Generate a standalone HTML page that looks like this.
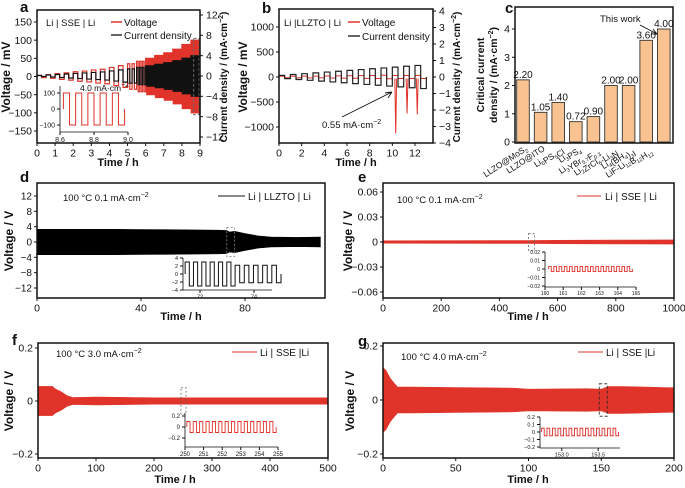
<!DOCTYPE html>
<html><head><meta charset="utf-8"><style>
html,body{margin:0;padding:0;background:#fff}
svg{display:block;font-family:"Liberation Sans",Arial,sans-serif}
</style></head><body>
<svg id="fig" width="685" height="488" viewBox="0 0 685 488" xmlns="http://www.w3.org/2000/svg"></svg>
<script>
// ---------- data ----------
// panel a (0.5 h segments)
const aCurrent=[0.1,0.2,0.3,0.4,0.5,0.6,0.7,0.8,1.0,1.2,1.4,1.7,2.0,2.3,2.6,3.0,3.5,4.0];
const aVoltage=[3,5,8,10,13,15,18,20,25,30,35,42,50,58,65,75,88,100];
const aCycles=[1,1,1,1,1,1,1,1,1,1,2,3,4,6,8,10,12,14];
// panel b (1 h cycles)
const bCurrent=[0.1,0.15,0.2,0.25,0.3,0.35,0.4,0.45,0.5,0.55,0.6,0.65,0.7];
const bVoltage=[15,15,18,18,20,22,25,28,30,35,30,30,30];
const bSpikeTimes=[10.3,11.3,12.2];
const bSpikeValues=[-1130,-730,-750];
// panel c
const cVals=[2.20,1.05,1.40,0.72,0.90,2.00,2.00,3.60,4.00];
const cLabels=["2.20","1.05","1.40","0.72","0.90","2.00","2.00","3.60","4.00"];
// envelopes
const dTimes=[0,10,30,50,70,73,74,76,80,85,90,100,109];
const dAmps=[3.3,3.3,3.3,3.2,3.1,3.0,2.6,2.8,2.2,1.6,1.3,1.2,1.3];
const eTimes=[0,200,400,500,600,800,1000];
const eAmps=[0.0015,0.0016,0.0018,0.0018,0.002,0.0023,0.0025];
const fTimes=[0,25,30,40,50,60,100,200,300,400,500];
const fAmps=[0.055,0.055,0.045,0.035,0.02,0.013,0.015,0.012,0.012,0.012,0.012];
const gTimes=[0,2,5,8,10,20,50,90,100,140,150,155,165,200];
const gAmps=[0.12,0.11,0.08,0.06,0.048,0.048,0.046,0.044,0.04,0.042,0.04,0.05,0.05,0.045];

// ---------- helpers ----------
const NS='http://www.w3.org/2000/svg';
const svg=document.getElementById('fig');
const RED='#e0342b';
function add(tag,attrs,parent){const e=document.createElementNS(NS,tag);for(const k in attrs)e.setAttribute(k,attrs[k]);(parent||svg).appendChild(e);return e;}
function lin(d0,d1,r0,r1){return v=>r0+(v-d0)*(r1-r0)/(d1-d0);}
function txt(x,y,s,size,anchor,weight,parent){const t=add('text',{x:x,y:y,'font-size':size,'text-anchor':anchor||'start','font-weight':weight||'normal',fill:'#111'},parent);t.textContent=s;return t;}
function box(x0,y0,x1,y1,name){const r=add('rect',{x:x0,y:y0,width:x1-x0,height:y1-y0,fill:'none',stroke:'#111','stroke-width':1.5});

return r;}
function yTicks(x,ticks,labels,sy,size,side,name){ticks.forEach((v,i)=>{const y=sy(v);const dx=side==='r'?3:-3;
const l=add('line',{x1:x,x2:x+dx,y1:y,y2:y,stroke:'#111','stroke-width':1});


const t=txt(side==='r'?x+6:x-5,y+size*0.35,labels[i],size,side==='r'?'start':'end');

});}
function xTicks(y,ticks,labels,sx,size,name){ticks.forEach((v,i)=>{const x=sx(v);
const l=add('line',{x1:x,x2:x,y1:y,y2:y+3,stroke:'#111','stroke-width':1});


const t=txt(x,y+size+3,labels[i],size,'middle');

});}
function rtxt(x,y,s,size,rot,name){const t=add('text',{x:0,y:0,'font-size':size,'text-anchor':'middle','font-weight':'bold',fill:'#111',transform:`translate(${x},${y}) rotate(${rot})`});t.innerHTML=s;

return t;}
function label(x,y,s,size,name,weight){const t=txt(x,y,'',size,'start',weight);t.innerHTML=s;

return t;}
function envelope(times,amps,sx,sy,color,name){let p='';times.forEach((t,i)=>{p+=(i?'L':'M')+sx(t)+','+sy(amps[i]);});for(let i=times.length-1;i>=0;i--)p+='L'+sx(times[i])+','+sy(-amps[i]);p+='Z';
const e=add('path',{d:p,fill:color,stroke:color,'stroke-width':0.6});

return e;}
function sq(t0,t1,n,amp,sx,sy){let p='';const w=(t1-t0)/n;for(let k=0;k<n;k++){const a=t0+k*w,m=a+w/2,b=a+w;p+=`M${sx(a)},${sy(0)}L${sx(a)},${sy(amp)}L${sx(m)},${sy(amp)}L${sx(m)},${sy(-amp)}L${sx(b)},${sy(-amp)}L${sx(b)},${sy(0)}`;}return p;}
const sup='font-size="7" dy="-4"';

// ---------- panel a ----------
{const sx=lin(0,9,37,200),syL=lin(0,150,76.5,22),syR=lin(0,12,76,15);
let pb='',pr='';aCurrent.forEach((c,k)=>{pb+=sq(k*0.5,k*0.5+0.5,aCycles[k],c,sx,syR);pr+=sq(k*0.5,k*0.5+0.5,aCycles[k],aVoltage[k],sx,syL);});
const r=add('path',{d:pr,fill:'none',stroke:RED,'stroke-width':1.2});


const b=add('path',{d:pb,fill:'none',stroke:'#111','stroke-width':1.2});


const db=add('rect',{x:sx(8.65),y:syL(105),width:sx(8.95)-sx(8.65),height:syL(-105)-syL(105),fill:'none',stroke:'#666','stroke-dasharray':'3,2'});


box(37,10,200,143,'a-plot-frame');
yTicks(37,[150,100,50,0,-50,-100,-150],['150','100','50','0','−50','−100','−150'],syL,10.5,'l','a-y-left');
yTicks(200,[12,8,4,0,-4,-8,-12],['12','8','4','0','−4','−8','−12'],syR,10.5,'r','a-y-right');
xTicks(143,[0,1,2,3,4,5,6,7,8,9],['0','1','2','3','4','5','6','7','8','9'],sx,10.5,'a-x');
const ix=lin(8.6,9.0,60,128),iy=lin(0,100,109,93);
const ia=add('path',{d:'M60,86L60,132L128,132',fill:'none',stroke:'#111','stroke-width':0.8});


const iw=add('path',{d:sq(8.62,8.98,5,100,ix,iy),fill:'none',stroke:RED,'stroke-width':1});


yTicks(60,[100,0,-100],['100','0','−100'],iy,7,'l','a-inset-y');
xTicks(132,[8.6,8.8,9.0],['8.6','8.8','9.0'],ix,7,'a-inset-x');
label(80,91,'4.0 mA·cm<tspan '+sup+'>−2</tspan>',8.5,'a-inset-annotation');
label(46,26,'Li | SSE | Li',9.5,'a-cell-label');
const l1=add('line',{x1:111,x2:122,y1:22,y2:22,stroke:RED,'stroke-width':1.5});
label(124,26,'Voltage',10,'a-legend-voltage');
const l2=add('line',{x1:111,x2:122,y1:35,y2:35,stroke:'#333','stroke-width':1.5});
label(124,39,'Current density',10,'a-legend-current');
rtxt(10,77,'Voltage / mV',12,-90,'a-y-title');
rtxt(227,77,'Current density / (mA·cm<tspan '+sup+'>−2</tspan><tspan dy="4">)</tspan>',10,-90,'a-y-right-title');
rtxt(118,166,'Time / h',11,0,'a-x-title');
label(20,12,'a',15,'a-panel-letter','bold');}

// ---------- panel b ----------
{const sx=lin(0,12,279,415),syL=lin(0,1000,77,27),syR=lin(0,4,77,11);
let pb='';bCurrent.forEach((c,k)=>{pb+=sq(k,k+1,1,c,sx,syR);});
let pr='M'+sx(0)+','+syL(0);bVoltage.forEach((v,k)=>{pr+=`L${sx(k)},${syL(v)}L${sx(k+0.5)},${syL(v)}L${sx(k+0.5)},${syL(-v)}L${sx(k+1)},${syL(-v)}`;});
const r=add('path',{d:pr,fill:'none',stroke:RED,'stroke-width':1});


bSpikeTimes.forEach((t,i)=>{const s=add('path',{d:`M${sx(t-0.08)},${syL(-30)}L${sx(t)},${syL(bSpikeValues[i])}L${sx(t+0.08)},${syL(-30)}`,fill:'none',stroke:RED,'stroke-width':1});

});
const b=add('path',{d:pb,fill:'none',stroke:'#222','stroke-width':1.2});


box(279,9,433,143,'b-plot-frame');
yTicks(279,[1000,500,0,-500,-1000],['1000','500','0','−500','−1000'],syL,10.5,'l','b-y-left');
yTicks(433,[4,3,2,1,0,-1,-2,-3,-4],['4','3','2','1','0','−1','−2','−3','−4'],syR,10.5,'r','b-y-right');
xTicks(143,[0,2,4,6,8,10,12],['0','2','4','6','8','10','12'],sx,10.5,'b-x');
label(284,26,'Li |LLZTO | Li',9.5,'b-cell-label');
const l1=add('line',{x1:348,x2:360,y1:22,y2:22,stroke:RED,'stroke-width':1.5});
label(362,26,'Voltage',10,'b-legend-voltage');
const l2=add('line',{x1:348,x2:360,y1:36,y2:36,stroke:'#333','stroke-width':1.5});
label(362,40,'Current density',10,'b-legend-current');
label(322,128,'0.55 mA·cm<tspan '+sup+'>−2</tspan>',9.5,'b-annotation');
const ar=add('path',{d:'M342,117L392,92M392,92L385,93M392,92L388,98',stroke:'#111','stroke-width':0.9,fill:'none'});

rtxt(247,77,'Voltage / mV',12,-90,'b-y-title');
rtxt(460,77,'Current density / (mA·cm<tspan '+sup+'>−2</tspan><tspan dy="4">)</tspan>',10,-90,'b-y-right-title');
rtxt(356,166,'Time / h',11,0,'b-x-title');
label(262,13,'b',15,'b-panel-letter','bold');}

// ---------- panel c ----------
{const sy=lin(0,4,142,29),cx=i=>523+i*17.6;const subs=[['LLZO@MoS','2'],['LLZO@ITO',''],['Li','6','PS','5','Cl'],['Li','3','PS','4'],['Li','3','YBr','5.7','F','0.3'],['Li','2','ZrCl','6','-Li','3','N'],['Li','4','(BH','4',')','3','I'],['LiF-Li','12','B','12','H','12']];
cVals.forEach((v,i)=>{const r=add('rect',{x:cx(i)-6.3,y:sy(v),width:12.6,height:sy(0)-sy(v),fill:'#f8c291',stroke:'#333','stroke-width':0.9});


const t=txt(cx(i),sy(v)-2,cLabels[i],10,'middle');

});
box(515,7,673,143,'c-plot-frame');
yTicks(515,[0,1,2,3,4],['0','1','2','3','4'],sy,10.5,'l','c-y');
subs.forEach((parts,i)=>{let h='';parts.forEach((p,j)=>{h+=j%2?`<tspan font-size="5.5" dy="2">${p}</tspan><tspan dy="-2"></tspan>`:p;});
const t=add('text',{x:0,y:0,'font-size':8.5,'text-anchor':'end',fill:'#111',transform:`translate(${cx(i)+5},${150}) rotate(-33)`});t.innerHTML=h;

});
label(600,22,'This work',9.5,'c-this-work-label');
const ar=add('path',{d:'M640,25L657,34M657,34L651,34M657,34L653,29',stroke:'#111','stroke-width':0.9,fill:'none'});

rtxt(484,75,'Critical current',10.5,-90,'c-y-title-1');
rtxt(497,75,'density / (mA·cm<tspan '+sup+'>−2</tspan><tspan dy="4">)</tspan>',10.5,-90,'c-y-title-2');
label(505,13,'c',15,'c-panel-letter','bold');}

// ---------- panel d ----------
{const sx=lin(0,40,37,141),sy=lin(0,12,242,196);
envelope(dTimes,dAmps,sx,sy,'#000','d-voltage-band');
box(37,183,325,298,'d-plot-frame');
yTicks(37,[12,8,4,0,-4,-8,-12],['12','8','4','0','−4','−8','−12'],sy,10,'l','d-y');
xTicks(298,[0,40,80],['0','40','80'],sx,10.5,'d-x');
const m=add('rect',{x:sx(73),y:sy(3.8),width:sx(76)-sx(73),height:sy(-3.8)-sy(3.8),fill:'none',stroke:'#888','stroke-dasharray':'2,2','stroke-width':0.8});

const ix=lin(72,74,200,254),iy=lin(0,4,274,258);
const ia=add('path',{d:'M183,258L183,290L272,290',fill:'none',stroke:'#111','stroke-width':0.8});

const iw=add('path',{d:sq(71.45,73.3,6,3,ix,iy)+sq(73.3,75.0,5,2.2,ix,iy),fill:'none',stroke:'#111','stroke-width':1});

yTicks(183,[4,2,0,-2,-4],['4','2','0','−2','−4'],iy,5.5,'l','d-inset-y');
xTicks(290,[72,74],['72','74'],ix,5.5,'d-inset-x');
label(63,201,'100 °C 0.1 mA·cm<tspan '+sup+'>−2</tspan>',9.5,'d-condition-label');
const l=add('line',{x1:218,x2:245,y1:196,y2:196,stroke:'#111','stroke-width':1});
label(248,200,'Li | LLZTO | Li',10,'d-legend-label');
rtxt(13,241,'Voltage / V',12,-90,'d-y-title');
rtxt(181,320,'Time / h',11,0,'d-x-title');
label(20,182,'d',15,'d-panel-letter','bold');}

// ---------- panel e ----------
{const sx=lin(0,1000,383,674),sy=lin(0,0.06,242,192);
envelope(eTimes,eAmps,sx,sy,RED,'e-voltage-band');
box(383,183,674,298,'e-plot-frame');
yTicks(383,[0.06,0.03,0,-0.03,-0.06],['0.06','0.03','0','−0.03','−0.06'],sy,10.5,'l','e-y');
xTicks(298,[0,200,400,600,800,1000],['0','200','400','600','800','1000'],sx,10.5,'e-x');
const m=add('rect',{x:sx(500),y:sy(0.01),width:6,height:sy(-0.01)-sy(0.01),fill:'none',stroke:'#666','stroke-dasharray':'2,2','stroke-width':0.8});

const ix=lin(160,165,545,636),iy=lin(0,0.02,269,252);
const ia=add('path',{d:'M545,252L545,287L636,287',fill:'none',stroke:'#111','stroke-width':0.8});

const iw=add('path',{d:sq(160.2,164.8,16,0.003,ix,iy),fill:'none',stroke:RED,'stroke-width':0.9});

yTicks(545,[0.02,0.01,0,-0.01,-0.02],['0.02','0.01','0','−0.01','−0.02'],iy,5,'l','e-inset-y');
xTicks(287,[160,161,162,163,164,165],['160','161','162','163','164','165'],ix,5,'e-inset-x');
label(397,203,'100 °C 0.1 mA·cm<tspan '+sup+'>−2</tspan>',9.5,'e-condition-label');
const l=add('line',{x1:577,x2:601,y1:196,y2:196,stroke:RED,'stroke-width':1});
label(605,200,'Li | SSE | Li',10,'e-legend-label');
rtxt(352,241,'Voltage / V',12,-90,'e-y-title');
rtxt(528,320,'Time / h',11,0,'e-x-title');
label(358,182,'e',15,'e-panel-letter','bold');}

// ---------- panel f ----------
{const sx=lin(0,500,38,328),sy=lin(0,0.2,401,348);
envelope(fTimes,fAmps,sx,sy,RED,'f-voltage-band');
box(38,343,328,458,'f-plot-frame');
yTicks(38,[0.2,0,-0.2],['0.2','0','−0.2'],sy,10.5,'l','f-y');
xTicks(458,[0,100,200,300,400,500],['0','100','200','300','400','500'],sx,10.5,'f-x');
const m=add('rect',{x:sx(250)-2,y:sy(0.05),width:5,height:sy(-0.05)-sy(0.05),fill:'none',stroke:'#666','stroke-dasharray':'2,2','stroke-width':0.8});

const ix=lin(250,255,185,278),iy=lin(0,0.2,427,416);
const ia=add('path',{d:'M185,413L185,447L278,447',fill:'none',stroke:'#111','stroke-width':0.8});

const iw=add('path',{d:sq(250.1,254.9,14,0.1,ix,iy),fill:'none',stroke:RED,'stroke-width':0.9});

yTicks(185,[0.2,0,-0.2],['0.2','0','−0.2'],iy,6,'l','f-inset-y');
xTicks(447,[250,251,252,253,254,255],['250','251','252','253','254','255'],ix,6,'f-inset-x');
label(56,357,'100 °C 3.0 mA·cm<tspan '+sup+'>−2</tspan>',9.5,'f-condition-label');
const l=add('line',{x1:232,x2:257,y1:352,y2:352,stroke:RED,'stroke-width':1});
label(260,356,'Li | SSE |Li',10,'f-legend-label');
rtxt(13,401,'Voltage / V',12,-90,'f-y-title');
rtxt(175,483,'Time / h',11,0,'f-x-title');
label(12,345,'f',15,'f-panel-letter','bold');}

// ---------- panel g ----------
{const sx=lin(0,200,383,674),sy=lin(0,0.2,400,346);
envelope(gTimes,gAmps,sx,sy,RED,'g-voltage-band');
box(383,343,674,458,'g-plot-frame');
yTicks(383,[0.2,0,-0.2],['0.2','0','−0.2'],sy,10.5,'l','g-y');
xTicks(458,[0,50,100,150,200],['0','50','100','150','200'],sx,10.5,'g-x');
const m=add('rect',{x:sx(150)-2,y:sy(0.06),width:8,height:sy(-0.06)-sy(0.06),fill:'none',stroke:'#222','stroke-dasharray':'3,2','stroke-width':0.8});

const ix=lin(152.7,153.8,540,620),iy=lin(0,0.2,432,417);
const ia=add('path',{d:'M540,417L540,448L620,448',fill:'none',stroke:'#111','stroke-width':0.8});

const iw=add('path',{d:sq(152.72,153.78,14,0.05,ix,iy),fill:'none',stroke:RED,'stroke-width':0.9});

yTicks(540,[0.2,0.1,0,-0.1,-0.2],['0.2','0.1','0','−0.1','−0.2'],iy,5.5,'l','g-inset-y');
xTicks(448,[153.0,153.5],['153.0','153.5'],ix,5.5,'g-inset-x');
label(401,360,'100 °C 4.0 mA·cm<tspan '+sup+'>−2</tspan>',9.5,'g-condition-label');
const l=add('line',{x1:578,x2:603,y1:352,y2:352,stroke:RED,'stroke-width':1});
label(606,356,'Li | SSE |Li',10,'g-legend-label');
rtxt(354,401,'Voltage / V',12,-90,'g-y-title');
rtxt(528,483,'Time / h',11,0,'g-x-title');
label(358,346,'g',15,'g-panel-letter','bold');}
</script>
</body></html>
